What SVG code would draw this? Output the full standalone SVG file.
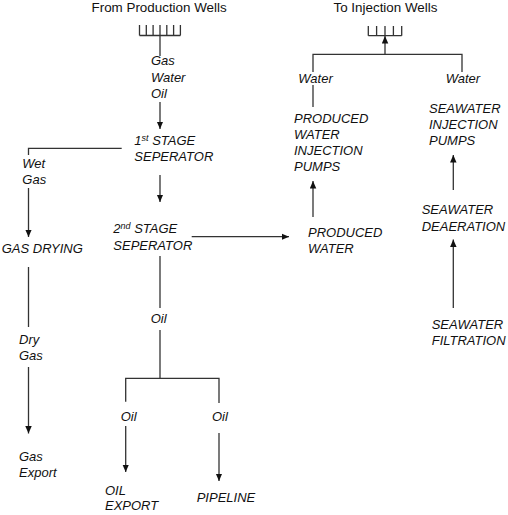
<svg xmlns="http://www.w3.org/2000/svg" width="508" height="515" viewBox="0 0 508 515">
<style>
.t{font-family:"Liberation Sans",Arial,sans-serif;font-size:13px;fill:#111}
.h{font-size:13.4px}
.i{font-style:italic}
.ln{stroke:#333;stroke-width:1.3;fill:none}
.ar{marker-end:url(#ah)}
</style>
<defs>
<marker id="ah" markerUnits="userSpaceOnUse" markerWidth="8" markerHeight="7" refX="7.5" refY="3.25" orient="auto">
<path d="M0,0 L7.5,3.25 L0,6.5 Z" fill="#111"/>
</marker>
</defs>
<rect width="508" height="515" fill="#fff"/>
<g id="connectors">
<path class="ln" d="M139.5,25V35.5M146.3,25V35.5M153.1,25V35.5M160,25V35.5M166.8,25V35.5M173.6,25V35.5M180.4,25V35.5M139.5,35.5H180.4"/>
<line class="ln" x1="160" y1="35.5" x2="160" y2="56"/>
<line class="ln ar" x1="160" y1="102" x2="160" y2="129"/>
<polyline class="ln" points="121.7,148.3 28.5,148.3 28.5,155"/>
<line class="ln ar" x1="28.5" y1="188" x2="28.5" y2="237"/>
<line class="ln ar" x1="160" y1="175" x2="160" y2="202"/>
<line class="ln ar" x1="191.7" y1="236.7" x2="289" y2="236.7"/>
<line class="ln ar" x1="313" y1="217" x2="313" y2="181"/>
<line class="ln" x1="313" y1="107" x2="313" y2="85"/>
<polyline class="ln" points="313,72 313,54.3 462,54.3 462,72"/>
<path class="ln" d="M368.3,26V35.7M376.6,26V35.7M385,26V35.7M393.4,26V35.7M401.7,26V35.7M368.3,35.7H401.7"/>
<line class="ln ar" x1="385" y1="54.3" x2="385" y2="36"/>
<line class="ln ar" x1="453.3" y1="190" x2="453.3" y2="155"/>
<line class="ln ar" x1="453.3" y1="308" x2="453.3" y2="239.5"/>
<line class="ln" x1="28.5" y1="267" x2="28.5" y2="327"/>
<line class="ln ar" x1="28.5" y1="367" x2="28.5" y2="433.5"/>
<line class="ln" x1="160" y1="256" x2="160" y2="308"/>
<polyline class="ln" points="160,330 160,378.3"/>
<polyline class="ln" points="125.7,401.7 125.7,378.3 219,378.3 219,403"/>
<line class="ln ar" x1="125.7" y1="426" x2="125.7" y2="472"/>
<line class="ln ar" x1="219" y1="433" x2="219" y2="481"/>
</g>
<g id="title-production"><text class="t h" x="91.5" y="12">From Production Wells</text></g>
<g id="title-injection"><text class="t h" x="333.5" y="12">To Injection Wells</text></g>
<g id="label-gwo"><text class="t i" x="151" y="65">Gas</text><text class="t i" x="151" y="81.5">Water</text><text class="t i" x="151" y="97.5">Oil</text></g>
<g id="stage1"><text class="t i" x="134.3" y="145">1<tspan font-size="9" dy="-4">st</tspan><tspan dy="4"> STAGE</tspan></text><text class="t i" x="134.3" y="161">SEPERATOR</text></g>
<g id="label-wetgas"><text class="t i" x="22.3" y="168.3">Wet</text><text class="t i" x="22.3" y="184.3">Gas</text></g>
<g id="gas-drying"><text class="t i" x="1.7" y="253">GAS DRYING</text></g>
<g id="stage2"><text class="t i" x="113.3" y="233.3">2<tspan font-size="9" dy="-4">nd</tspan><tspan dy="4"> STAGE</tspan></text><text class="t i" x="113.3" y="249.5">SEPERATOR</text></g>
<g id="produced-water"><text class="t i" x="308" y="236.7">PRODUCED</text><text class="t i" x="308" y="252.8">WATER</text></g>
<g id="pw-injection-pumps"><text class="t i" x="294" y="123.3">PRODUCED</text><text class="t i" x="294" y="139.3">WATER</text><text class="t i" x="294" y="155">INJECTION</text><text class="t i" x="294" y="170.7">PUMPS</text></g>
<g id="label-water-left"><text class="t i" x="298.3" y="82.7">Water</text></g>
<g id="label-water-right"><text class="t i" x="445.7" y="82.7">Water</text></g>
<g id="sw-injection-pumps"><text class="t i" x="429" y="112.7">SEAWATER</text><text class="t i" x="429" y="129.3">INJECTION</text><text class="t i" x="429" y="145">PUMPS</text></g>
<g id="sw-deaeration"><text class="t i" x="421.7" y="214.3">SEAWATER</text><text class="t i" x="421.7" y="230.7">DEAERATION</text></g>
<g id="sw-filtration"><text class="t i" x="431.7" y="329">SEAWATER</text><text class="t i" x="431.7" y="345">FILTRATION</text></g>
<g id="label-drygas"><text class="t i" x="19" y="344">Dry</text><text class="t i" x="19" y="360">Gas</text></g>
<g id="gas-export"><text class="t i" x="19" y="460.7">Gas</text><text class="t i" x="19" y="476.7">Export</text></g>
<g id="label-oil-main"><text class="t i" x="150.7" y="323.3">Oil</text></g>
<g id="label-oil-left"><text class="t i" x="120.7" y="421">Oil</text></g>
<g id="label-oil-right"><text class="t i" x="212" y="421">Oil</text></g>
<g id="oil-export"><text class="t i" x="105" y="495">OIL</text><text class="t i" x="105" y="510">EXPORT</text></g>
<g id="pipeline"><text class="t i" x="196.7" y="502.3">PIPELINE</text></g>
</svg>
